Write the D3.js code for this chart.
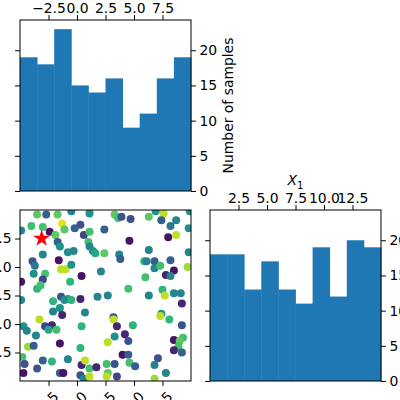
<!DOCTYPE html>
<html>
<head>
<meta charset="utf-8">
<script src="https://cdn.jsdelivr.net/npm/d3@7"></script>
<style>
  body { margin: 0; background: #fff; }
  svg, svg text, .tick text { font-family: "DejaVu Sans", sans-serif !important; }
  .tick text { font-size: 13.9px; fill: #000; }
</style>
</head>
<body>
<div id="chart"></div>
<script>
// bin counts for the two 1-D histograms
const countsX0 = [19, 18, 23, 15, 14, 16, 9, 11, 16, 19];
const countsX1 = [18, 18, 13, 17, 13, 11, 19, 12, 20, 19];
const domainX0 = [-5, 10];
const domainX1 = [0, 15];
const ticksX0 = [-2.5, 0, 2.5, 5, 7.5];
const ticksX1 = [2.5, 5, 7.5, 10, 12.5];
const ticksCount = [0, 5, 10, 15, 20];

// evaluated points (x0, x1) and colour level of the objective
const pointsX0 = [-3.5,-2.7,-1.7,-0.5,1.1,-4.0,-3.0,-2.4,-1.3,-1.1,-1.9,-4.9,-0.2,0.3,0.6,1.1,1.1,-1.7,-1.5,-0.8,
  -0.3,1.0,1.1,1.4,1.6,2.4,-3.0,-3.9,-3.7,-1.6,-1.4,-1.0,-0.5,-2.8,-3.8,-3.0,-4.9,0.4,-0.6,2.1,
  -3.5,-3.2,-4.9,-1.4,-2.1,-1.5,-1.1,-0.8,-0.5,0.3,1.8,2.7,-2.1,-1.3,0.7,-3.3,-2.8,-2.2,-2.5,-1.8,
  -4.7,-4.4,-3.6,0.4,-1.5,0.3,-4.3,-3.8,-4.8,-4.6,-3.5,-4.7,-3.0,-2.2,-0.8,-1.5,-1.2,0.4,0.7,1.1,
  0.3,1.7,2.6,2.7,3.5,3.3,3.2,3.2,3.5,2.7,3.3,4.0,4.5,4.2,4.5,4.6,5.1,4.9,4.5,2.4,
  3.3,3.6,3.9,4.7,4.6,3.7,3.8,6.3,6.9,7.6,7.4,8.2,8.7,8.7,8.0,9.8,9.8,9.7,6.3,5.9,
  6.1,6.8,6.8,7.3,8.2,8.5,7.8,8.2,6.0,7.5,7.7,8.5,9.1,9.2,6.3,7.4,7.3,8.1,9.2,8.5,
  9.3,9.0,8.9,8.5,9.2,7.1,6.8,6.8,7.8,9.9,0.6,1.1,2.6];
const pointsX1 = [14.6,14.6,14.6,14.9,14.9,13.6,13.5,13.1,13.8,13.3,12.8,13.2,13.4,13.7,12.8,13.1,14.7,12.2,11.8,11.3,
  11.4,12.2,11.8,11.4,11.2,11.2,11.1,10.5,10.1,10.6,9.8,9.8,10.2,9.4,9.4,8.9,8.7,9.2,8.7,9.6,
  8.1,8.4,7.1,7.4,7.0,6.4,7.1,7.2,7.1,7.2,7.4,7.5,6.1,5.8,6.0,5.4,4.8,4.9,4.5,4.5,
  4.8,4.4,4.0,4.8,3.3,2.9,3.0,3.1,2.1,1.5,1.1,0.7,1.8,1.7,1.9,0.7,0.7,1.4,1.8,1.1,
  0.5,1.2,1.5,0.7,0.4,3.9,5.6,5.4,4.8,3.4,1.5,2.3,2.3,4.1,3.5,1.6,1.3,4.9,8.1,13.3,
  14.6,14.3,14.4,14.2,12.3,11.1,10.7,14.4,14.9,14.7,14.1,13.6,14.1,12.8,12.6,13.4,11.3,10.0,11.5,10.5,
  10.5,10.5,9.9,10.1,10.6,9.7,9.3,9.2,9.1,8.0,7.5,7.7,7.7,6.8,7.5,5.9,5.7,5.4,4.9,3.6,
  3.8,3.5,3.0,2.7,2.5,2.0,1.4,0.2,0.7,14.9,0.2,0.4,0.4];
const pointsLevel = [.75,.3,.75,.45,.9,.7,.7,.05,.95,.75,.75,.45,.3,.25,.2,.7,.5,.3,.5,.5,
  .45,.7,.45,.5,.6,.75,.45,.25,.4,.05,.9,.9,.5,.7,.5,.2,.05,.05,.65,.45,
  .65,.7,.45,.25,.65,.5,.5,.5,.65,.1,.45,.45,.45,.1,.45,.9,.2,.1,.6,.7,
  .5,.45,.45,.65,.05,.65,.85,.3,.7,.25,.25,.05,.3,.65,.45,.3,.05,.1,.9,.7,
  .25,.1,.7,.75,.2,.5,.25,.9,.1,.9,.25,.05,.3,.1,.25,.7,.3,.65,.7,.3,
  .75,.7,.25,.25,.05,.45,.3,.75,.5,.9,.3,.4,.45,.9,.05,.5,.45,.85,.45,.65,
  .45,.3,.45,.7,.3,.05,.1,.45,.7,.65,.9,.45,.45,.1,.45,.5,.9,.65,.25,.05,
  .7,.75,.7,.1,.3,.25,.45,.85,.45,.5,.45,.9,.9];
const bestPoint = [-3.1, 12.5];

const W = 400, H = 400, fs = 13.9, tl = 4.9;
const blue = "#1f77b4";
const left = 20, right = 191, left2 = 210, right2 = 381;
const top1 = 20, bot1 = 191, top2 = 210, bot2 = 381;

const svg = d3.select("#chart").append("svg").attr("width", W).attr("height", H);

function fmt(d) { return d3.format(".1f")(d).replace("-", "\u2212"); }
function clean(a) { a.select(".domain").remove(); a.attr("font-family", null).attr("font-size", null); }

function hist(x0, x1, y0, y1, domain, counts, ticks) {
  const x = d3.scaleLinear().domain(domain).range([x0, x1]);
  const y = d3.scaleLinear().domain([0, 24.3]).range([y1, y0]);
  const step = (domain[1] - domain[0]) / counts.length;
  const g = svg.append("g");
  g.selectAll("rect").data(counts).join("rect")
    .attr("x", (d, i) => x(domain[0] + i * step))
    .attr("width", (d, i) => x(domain[0] + (i + 1) * step) - x(domain[0] + i * step) + 0.4)
    .attr("y", d => y(d)).attr("height", d => y(0) - y(d))
    .attr("fill", blue);
  g.append("rect").attr("x", x0).attr("y", y0).attr("width", x1 - x0).attr("height", y1 - y0)
    .attr("fill", "none").attr("stroke", "#000").attr("stroke-width", 1);
  g.append("g").attr("transform", `translate(0,${y0})`)
    .call(d3.axisTop(x).tickValues(ticks).tickFormat(fmt).tickSize(tl).tickPadding(2))
    .call(clean);
  g.append("g").attr("transform", `translate(${x1},0)`)
    .call(d3.axisRight(y).tickValues(ticksCount).tickFormat(d3.format("d")).tickSize(tl).tickPadding(3.5))
    .call(clean);
  g.append("g").attr("transform", `translate(${x0},0)`)
    .call(d3.axisLeft(y).tickValues(ticksCount).tickFormat("").tickSize(tl))
    .call(clean);
  g.append("text").attr("transform", `translate(${x1 + 42},${(y0 + y1) / 2}) rotate(-90)`)
    .attr("text-anchor", "middle").attr("font-size", fs).text("Number of samples");
  return g;
}

hist(left, right, top1, bot1, domainX0, countsX0, ticksX0);
hist(left2, right2, top2, bot2, domainX1, countsX1, ticksX1);

svg.append("text").attr("x", (left2 + right2) / 2).attr("y", top2 - 25)
  .attr("text-anchor", "middle").attr("font-size", fs).attr("font-style", "italic")
  .html('X<tspan dy="4" font-size="10" font-style="normal">1</tspan>');

// scatter of evaluations
const sx = d3.scaleLinear().domain(domainX0).range([left, right]);
const sy = d3.scaleLinear().domain(domainX1).range([bot2, top2]);
const sc = svg.append("g");
sc.append("defs").append("clipPath").attr("id", "clip")
  .append("rect").attr("x", left).attr("y", top2).attr("width", right - left).attr("height", bot2 - top2);
sc.append("g").attr("clip-path", "url(#clip)")
  .selectAll("circle").data(pointsX0).join("circle")
  .attr("cx", d => sx(d)).attr("cy", (d, i) => sy(pointsX1[i])).attr("r", 4)
  .attr("fill", (d, i) => d3.interpolateViridis(pointsLevel[i]));
sc.append("path")
  .attr("d", d3.symbol(d3.symbolStar, 90)())
  .attr("transform", `translate(${sx(bestPoint[0])},${sy(bestPoint[1])})`)
  .attr("fill", "red");
sc.append("rect").attr("x", left).attr("y", top2).attr("width", right - left).attr("height", bot2 - top2)
  .attr("fill", "none").attr("stroke", "#000");
sc.append("g").attr("transform", `translate(${left},0)`)
  .call(d3.axisLeft(sy).tickValues(ticksX1).tickFormat(fmt).tickSize(tl).tickPadding(3.5))
  .call(clean);
const xa = sc.append("g").attr("transform", `translate(0,${bot2})`)
  .call(d3.axisBottom(sx).tickValues(ticksX0).tickFormat(fmt).tickSize(tl))
  .call(clean);
xa.selectAll(".tick text").attr("text-anchor", "end").attr("dy", 0)
  .attr("transform", "translate(5,11) rotate(-45)");
</script>
</body>
</html>
